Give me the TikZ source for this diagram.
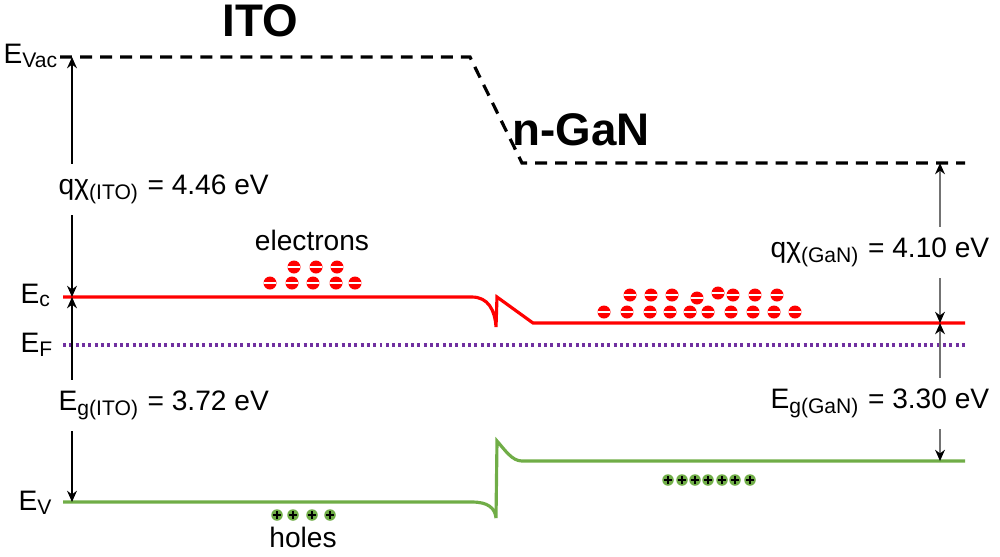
\documentclass[tikz,border=0pt]{standalone}
\usepackage{fontspec}
\setmainfont{Liberation Sans}
\usetikzlibrary{arrows.meta}
\definecolor{bandred}{RGB}{255,0,0}
\definecolor{bandgreen}{RGB}{112,173,71}
\definecolor{fermi}{RGB}{112,48,160}

\begin{document}
\begin{tikzpicture}[x=0.01cm, y=-0.01cm, font=\fontsize{8}{9.6}\selectfont]
    \tikzstyle{level} = [line width=0.9pt]
    \tikzstyle{gap} = [<->, >={Stealth[length=3.2pt,width=2.8pt,color=black]}, line width=0.4pt]
    \tikzstyle{lbl} = [fill=white, inner xsep=1pt, inner ysep=3pt]
    \tikzstyle{title} = [anchor=base, font=\fontsize{13}{15}\bfseries\selectfont]
    \tikzstyle{elec} = [circle, fill=bandred, inner sep=0pt, minimum size=0.13cm,
        path picture={\draw[white, line width=0.6pt] ([xshift=-1.9pt]path picture bounding box.center) -- ([xshift=1.9pt]path picture bounding box.center);}]
    \tikzstyle{hole} = [circle, fill=bandgreen, inner sep=0pt, minimum size=0.115cm,
        path picture={\draw[black, line width=0.35pt] ([xshift=-1.15pt]path picture bounding box.center) -- ([xshift=1.15pt]path picture bounding box.center)
            ([yshift=-1.15pt]path picture bounding box.center) -- ([yshift=1.15pt]path picture bounding box.center);}]

    \useasboundingbox (0,0) rectangle (1000,556);

    % band edges
    \draw [level, dash pattern=on 3.4pt off 2.3pt] (60,57) -- (470,57) -- (522,163) -- (965,163);
    \draw [level, bandred] (63,297) -- (472,297) .. controls (488,297) and (495,310) .. (496,327) -- (497,297) -- (533,323) -- (965,323);
    \draw [level, fermi, dash pattern=on 0.85pt off 0.95pt] (63,345) -- (965,345);
    \draw [level, bandgreen] (63,502) -- (472,502) .. controls (488,502) and (495,508) .. (496,518) -- (497,441) .. controls (505,450) and (512,461) .. (522,461) -- (965,461);

    \coordinate (vac1) at (72,57);
    \coordinate (c1) at (72,297);
    \coordinate (v1) at (72,502);
    \coordinate (vac2) at (940,163);
    \coordinate (c2) at (940,323);
    \coordinate (v2) at (940,461);

    \draw [gap] (c1) -- (vac1);
    \draw [gap] (c1) -- (v1);
    \draw [gap, black!55] (c2) -- (vac2);
    \draw [gap, black!55] (c2) -- (v2);

    \node [title] (ito) at (260,36) {ITO};
    \node [title] (gan) at (581,145) {n-GaN};

    \node [anchor=base west, inner sep=0pt] (evac) at (3,63) {E\textsubscript{Vac}};
    \node [anchor=base west, inner sep=0pt] (ec) at (20,303) {E\textsubscript{c}};
    \node [anchor=base west, inner sep=0pt] (ef) at (20,352) {E\textsubscript{F}};
    \node [anchor=base west, inner sep=0pt] (ev) at (18,510) {E\textsubscript{V}};

    \node [lbl, anchor=base west] (chiito) at (54.5,194) {qχ\textsubscript{(ITO)} = 4.46 eV};
    \node [lbl, anchor=base west] (egito) at (54.5,410) {E\textsubscript{g(ITO)} = 3.72 eV};
    \node [lbl, anchor=base east] (chigan) at (993.5,257) {qχ\textsubscript{(GaN)} = 4.10 eV};
    \node [lbl, anchor=base east] (eggan) at (993.5,408) {E\textsubscript{g(GaN)} = 3.30 eV};

    \node [anchor=base] (elabel) at (312,250) {electrons};
    \node [anchor=base] (hlabel) at (303,547) {holes};

    % carriers
    \foreach \x [count=\i] in {294,316,337}
        \node [elec] (ea\i) at (\x,267) {};
    \foreach \x [count=\i] in {270,292,313,336,355}
        \node [elec] (eb\i) at (\x,283) {};
    \foreach \x/\y [count=\i] in {630/295,651/295,672/295,697/298,718/293,733/295,755/295,777/295}
        \node [elec] (ec\i) at (\x,\y) {};
    \foreach \x [count=\i] in {604,627,650,670,690,708,731,753,774,795}
        \node [elec] (ed\i) at (\x,312) {};
    \foreach \x [count=\i] in {277,293,312,330}
        \node [hole] (ha\i) at (\x,515) {};
    \foreach \x [count=\i] in {668,682,695,708,722,735,750}
        \node [hole] (hb\i) at (\x,480) {};
\end{tikzpicture}
\end{document}
